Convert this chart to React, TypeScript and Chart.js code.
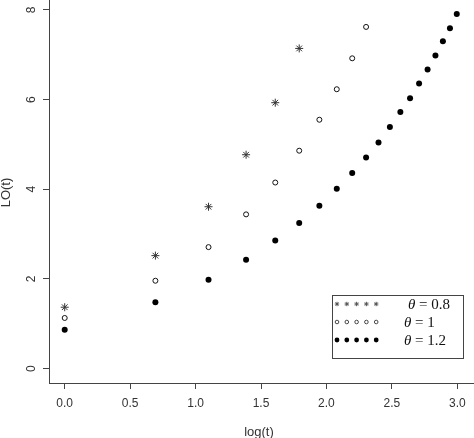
import React, { useEffect, useRef } from "react";
import { Chart, registerables } from "chart.js";

Chart.register(...registerables);

// log(t) for t = 1..n and LO(t) values
const logT08 = [0, 0.693, 1.099, 1.386, 1.609, 1.792];
const lo08 = [1.37, 2.52, 3.61, 4.77, 5.93, 7.14];
const logT10 = [0, 0.693, 1.099, 1.386, 1.609, 1.792, 1.946, 2.079, 2.197, 2.303];
const lo10 = [1.13, 1.96, 2.71, 3.44, 4.15, 4.86, 5.55, 6.23, 6.92, 7.62];
const logT12 = [0, 0.693, 1.099, 1.386, 1.609, 1.792, 1.946, 2.079, 2.197, 2.303, 2.398, 2.485, 2.565, 2.639, 2.708, 2.773, 2.833, 2.89, 2.944, 2.996];
const lo12 = [0.87, 1.48, 1.98, 2.43, 2.86, 3.25, 3.63, 4.01, 4.36, 4.71, 5.04, 5.39, 5.72, 6.03, 6.36, 6.67, 6.98, 7.3, 7.59, 7.91];

const xTicks = [0, 0.5, 1, 1.5, 2, 2.5, 3];
const xTickLabels = ["0.0", "0.5", "1.0", "1.5", "2.0", "2.5", "3.0"];
const yTicks = [0, 2, 4, 6, 8];
const yTickLabels = ["0", "2", "4", "6", "8"];
const xTitle = "log(t)";
const yTitle = "LO(t)";
const legendSymbol = "θ";
const legendValues = [" = 0.8", " = 1", " = 1.2"];

const AXIS = "#444";
const TEXT = "#333";
const SANS = "'Liberation Sans', Arial, sans-serif";
const SERIF = "'Liberation Serif', 'Times New Roman', serif";

function drawStar(ctx: CanvasRenderingContext2D, x: number, y: number, r: number) {
  ctx.beginPath();
  for (let i = 0; i < 4; i++) {
    const a = (i * Math.PI) / 4;
    ctx.moveTo(x + Math.cos(a) * r, y + Math.sin(a) * r);
    ctx.lineTo(x - Math.cos(a) * r, y - Math.sin(a) * r);
  }
  ctx.stroke();
}

const textPlugin = {
  id: "rtext",
  afterDraw(chart: any) {
    const ctx: CanvasRenderingContext2D = chart.ctx;
    const xs = chart.scales.x;
    const ys = chart.scales.y;
    const area = chart.chartArea;
    ctx.save();
    ctx.fillStyle = TEXT;
    ctx.font = `12px ${SANS}`;
    ctx.textAlign = "center";
    ctx.textBaseline = "middle";
    xTicks.forEach((v, i) => {
      ctx.fillText(xTickLabels[i], xs.getPixelForValue(v), 404);
    });
    yTicks.forEach((v, i) => {
      ctx.save();
      ctx.translate(32, ys.getPixelForValue(v));
      ctx.rotate(-Math.PI / 2);
      ctx.fillText(yTickLabels[i], 0, 0);
      ctx.restore();
    });
    ctx.font = `13px ${SANS}`;
    ctx.fillText(xTitle, (area.left + area.right) / 2 - 2, 432);
    ctx.save();
    ctx.translate(6, (area.top + area.bottom) / 2 + 1);
    ctx.rotate(-Math.PI / 2);
    ctx.fillText(yTitle, 0, 0);
    ctx.restore();

    // legend
    const bx = 332.5, by = 295.5, bw = 131, bh = 63;
    ctx.strokeStyle = AXIS;
    ctx.lineWidth = 1;
    ctx.strokeRect(bx, by, bw, bh);
    const rows = [304, 322, 340];
    const textX = [408, 404, 404];
    for (let r = 0; r < 3; r++) {
      for (let k = 0; k < 5; k++) {
        const px = 337 + k * 9.8;
        const py = rows[r];
        if (r === 0) {
          ctx.strokeStyle = "#555";
          ctx.lineWidth = 1;
          drawStar(ctx, px, py, 2.2);
        } else if (r === 1) {
          ctx.beginPath();
          ctx.arc(px, py, 1.8, 0, Math.PI * 2);
          ctx.fillStyle = "#fff";
          ctx.fill();
          ctx.strokeStyle = "#333";
          ctx.lineWidth = 0.9;
          ctx.stroke();
        } else {
          ctx.beginPath();
          ctx.arc(px, py, 2.4, 0, Math.PI * 2);
          ctx.fillStyle = "#000";
          ctx.fill();
        }
      }
      ctx.fillStyle = "#111";
      ctx.textAlign = "left";
      ctx.font = `italic 15px ${SERIF}`;
      const tx = textX[r];
      ctx.fillText(legendSymbol, tx, rows[r] + 1);
      const w = ctx.measureText(legendSymbol).width;
      ctx.font = `15px ${SERIF}`;
      ctx.fillText(legendValues[r], tx + w, rows[r] + 1);
    }
    ctx.restore();
  },
};

export default function App() {
  const ref = useRef<HTMLCanvasElement | null>(null);
  useEffect(() => {
    if (!ref.current) return;
    const chart = new Chart(ref.current, {
      type: "scatter",
      data: {
        datasets: [
          {
            label: "theta = 0.8",
            data: logT08.map((x, i) => ({ x, y: lo08[i] })),
            pointStyle: "star",
            pointRadius: 4,
            borderColor: "#333",
            backgroundColor: "#333",
            borderWidth: 1,
          },
          {
            label: "theta = 1",
            data: logT10.map((x, i) => ({ x, y: lo10[i] })),
            pointStyle: "circle",
            pointRadius: 2.5,
            borderColor: "#111",
            backgroundColor: "#fff",
            borderWidth: 1,
          },
          {
            label: "theta = 1.2",
            data: logT12.map((x, i) => ({ x, y: lo12[i] })),
            pointStyle: "circle",
            pointRadius: 3,
            borderColor: "#000",
            backgroundColor: "#000",
            borderWidth: 0,
          },
        ],
      },
      options: {
        responsive: false,
        animation: false,
        layout: { autoPadding: false, padding: { top: 0, right: 1, left: 0, bottom: 0 } },
        plugins: { legend: { display: false }, tooltip: { enabled: false } },
        scales: {
          x: {
            type: "linear",
            min: -0.12,
            max: 3.12,
            afterBuildTicks: (s: any) => {
              s.ticks = xTicks.map((v) => ({ value: v }));
            },
            afterFit: (s: any) => {
              s.height = 55;
              s.paddingLeft = 0;
              s.paddingRight = 0;
            },
            ticks: { display: false },
            grid: { drawOnChartArea: false, drawTicks: true, tickLength: 6, color: AXIS, lineWidth: 1 },
            border: { display: true, color: AXIS, width: 1 },
          },
          y: {
            type: "linear",
            min: -0.32,
            max: 8.22,
            afterBuildTicks: (s: any) => {
              s.ticks = yTicks.map((v) => ({ value: v }));
            },
            afterFit: (s: any) => {
              s.width = 49;
              s.paddingTop = 0;
              s.paddingBottom = 0;
            },
            ticks: { display: false },
            grid: { drawOnChartArea: false, drawTicks: true, tickLength: 6, color: AXIS, lineWidth: 1 },
            border: { display: true, color: AXIS, width: 1 },
          },
        },
      },
      plugins: [textPlugin],
    } as any);
    return () => chart.destroy();
  }, []);
  return (
    <div style={{ position: "fixed", left: 0, top: 0, width: 474, height: 438, background: "#fff" }}>
      <canvas ref={ref} width={474} height={438} style={{ display: "block" }} />
    </div>
  );
}
